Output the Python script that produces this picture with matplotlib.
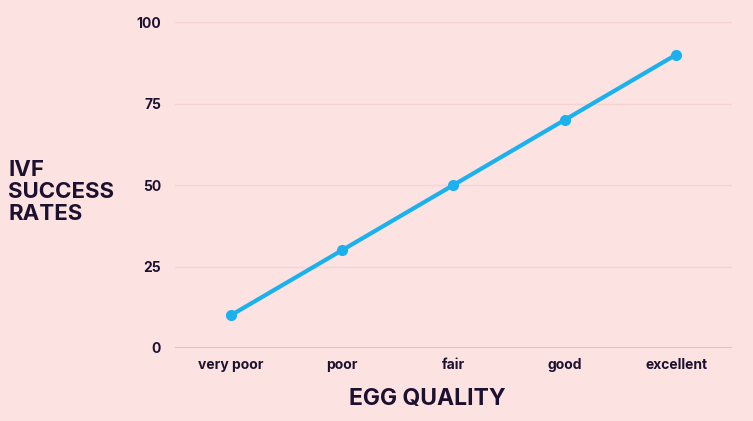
import matplotlib.pyplot as plt

#========================== data ===========================#
quality = ['very poor', 'poor', 'fair', 'good', 'excellent']
success = [10, 30, 50, 70, 90]
yticks = [0, 25, 50, 75, 100]

bg = '#fde2e2'
ink = '#1c1230'
blue = '#1bb1ef'

plt.rcParams['font.family'] = ['Inter', 'DejaVu Sans']

#========================== plot ===========================#
fig = plt.figure(figsize=(7.53, 4.21), dpi=100, facecolor=bg)
ax = fig.add_axes([0.2324, 0.1734, 0.7396, 0.7743], facecolor=bg)

x = range(len(quality))
ax.plot(x, success, color=blue, lw=3, marker='o', ms=7, zorder=3)

ax.set_xlim(-0.5, len(quality) - 0.5)
ax.set_ylim(0, 100)
ax.set_yticks(yticks)
ax.set_xticks(list(x))
ax.set_xticklabels(quality)

ax.grid(axis='y', color='#f6d2d4', lw=1)
ax.axhline(0, color='#e2c2ca', lw=1.5, zorder=2)
for s in ax.spines.values():
    s.set_visible(False)
ax.tick_params(length=0, colors=ink, labelsize=10)
ax.tick_params(axis='y', pad=10)
ax.tick_params(axis='x', pad=7)
for lab in ax.get_xticklabels() + ax.get_yticklabels():
    lab.set_fontweight('bold')

fig.text(0.011, 0.543, 'IVF\nSUCCESS\nRATES', fontsize=16, fontweight='bold',
         color=ink, ha='left', va='center', linespacing=1.12)
fig.text(0.568, 0.052, 'EGG QUALITY', fontsize=16.5, fontweight='bold',
         color=ink, ha='center', va='center')

fig.savefig('out.png', dpi=100, facecolor=bg)
